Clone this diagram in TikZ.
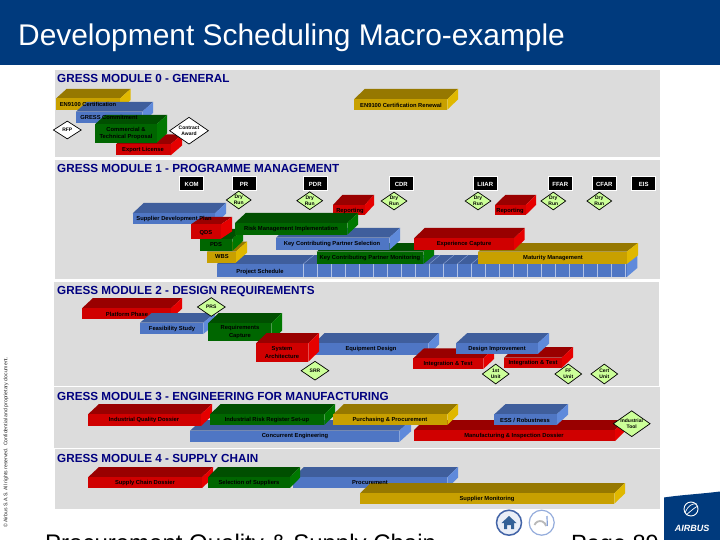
\documentclass[tikz,border=0pt]{standalone}
\usepackage{fontspec}
\setmainfont{Liberation Sans}
\usetikzlibrary{shapes.geometric}
\definecolor{hdr}{HTML}{003A7D}
\definecolor{panel}{HTML}{DCDCDC}
\definecolor{navy}{HTML}{00007F}
\definecolor{Rf}{HTML}{D00000}\definecolor{Rt}{HTML}{990000}\definecolor{Rs}{HTML}{E60000}
\definecolor{Bf}{HTML}{4F76C4}\definecolor{Bt}{HTML}{3F5E9C}\definecolor{Bs}{HTML}{5F8ADB}
\definecolor{Gf}{HTML}{006600}\definecolor{Gt}{HTML}{004F00}\definecolor{Gs}{HTML}{007800}
\definecolor{Yf}{HTML}{C8A000}\definecolor{Yt}{HTML}{967800}\definecolor{Ys}{HTML}{E0B800}
\definecolor{dia}{HTML}{CCFF99}
\tikzset{
  paneltitle/.style={anchor=base west,inner sep=0pt,text=navy,font=\fontsize{11.7}{12}\selectfont\bfseries},
  bartext/.style={inner sep=0pt,align=center,text=black,font=\fontsize{5.8}{7.5}\selectfont\bfseries},
  milestone/.style={fill=black,draw=white,line width=1pt,text=white,minimum width=24pt,minimum height=14pt,inner sep=0pt,font=\fontsize{6}{7}\selectfont\bfseries},
  gate/.style={diamond,draw=black,line width=.7pt,inner sep=0pt},
  gatetext/.style={inner sep=0pt,align=center,text=black,font=\fontsize{5}{6}\selectfont\bfseries},
}
% name, colour key, x1,y1,x2,y2 of the front, right x, top y, text
\newcommand\gbar[9]{%
  \pgfmathsetmacro\gxa{#3+#7-#5}%
  \pgfmathsetmacro\gyb{#6-(#4-#8)}%
  \fill[#2t] (#3,#4) -- (\gxa,#8) -- (#7,#8) -- (#5,#4) -- cycle;
  \fill[#2s] (#5,#4) -- (#7,#8) -- (#7,\gyb) -- (#5,#6) -- cycle;
  \fill[#2f] (#3,#4) rectangle (#5,#6);
}
\newcommand\gate[7]{% name,x,y,w,h,fill,text
  \node[gate,fill=#6,minimum width=#4pt,minimum height=#5pt,aspect=1.4,
        label={[gatetext,name=#1t]center:{#7}}] (#1) at (#2,#3) {};
}
\newcommand\mile[3]{\node[milestone] (#1) at (#2,184) {#3};}
\begin{document}
\begin{tikzpicture}[x=1pt,y=-1pt]
\useasboundingbox (0,0) rectangle (720,540);
\clip (0,0) rectangle (720,540);
\fill[white] (0,0) rectangle (720,540);
% header
\fill[hdr] (0,0) rectangle (720,65.5);
\node[anchor=base west,inner sep=0pt,text=white,font=\fontsize{29.9}{31}\selectfont] (title) at (18,46) {Development Scheduling Macro-example};
% panels
\fill[panel] (54.5,70) rectangle (660,157);
\fill[panel] (54.5,160) rectangle (660,279);
\fill[panel] (54,282) rectangle (659,386);
\fill[panel] (54,387) rectangle (660,448);
\fill[panel] (55,449) rectangle (660,509);
\node[paneltitle] (m0) at (57,83) {GRESS MODULE 0 - GENERAL};
\node[paneltitle] (m1) at (57,172.5) {GRESS MODULE 1 - PROGRAMME MANAGEMENT};
\node[paneltitle] (m2) at (57,294) {GRESS MODULE 2 - DESIGN REQUIREMENTS};
\node[paneltitle] (m3) at (57,400) {GRESS MODULE 3 - ENGINEERING FOR MANUFACTURING};
\node[paneltitle] (m4) at (57,462) {GRESS MODULE 4 - SUPPLY CHAIN};
% module 0
\gbar{a1}{Y}{56}{98.5}{120}{109.7}{130.5}{89}{}
\gbar{a2}{B}{76}{111.7}{142.3}{122.7}{153}{102}{}
\gbar{a4}{R}{116}{144.3}{170.7}{155.3}{182}{134.5}{}
\gbar{a3}{G}{95}{124.3}{156.7}{142.7}{167}{115}{}
\gbar{a5}{Y}{354}{99.3}{447.3}{109.7}{458}{89}{}
\node[bartext] (a1t) at (88,104) {EN9100 Certification};
\node[bartext] (a2t) at (109,117) {GRESS Commitment};
\node[bartext] (a3t) at (126,133.5) {Commercial \&\\Technical Proposal};
\node[bartext] (a4t) at (143,150) {Export License};
\node[bartext] (a5t) at (401,105) {EN9100 Certification Renewal};
\gate{g1}{67.3}{130}{28}{18}{white}{RFP}
\gate{g2}{189}{130.7}{39}{27}{white}{Contract\\Award}
% module 1
\mile{k1}{191.7}{KOM}\mile{k2}{244}{PR}\mile{k3}{315.3}{PDR}\mile{k4}{401.3}{CDR}
\mile{k5}{485.3}{LIIAR}\mile{k6}{560.3}{FFAR}\mile{k7}{604.3}{CFAR}\mile{k8}{643.7}{EIS}
\gate{d1}{238.7}{200}{25}{18}{dia}{Dry\\Run}
\gate{d2}{309.7}{200.7}{26}{18}{dia}{Dry\\Run}
\gate{d3}{394}{201}{26}{18}{dia}{Dry\\Run}
\gate{d4}{478}{201}{26}{18}{dia}{Dry\\Run}
\gate{d5}{553.3}{201}{25}{18}{dia}{Dry\\Run}
\gate{d6}{599.3}{201}{25}{18}{dia}{Dry\\Run}
\gbar{b1}{B}{217}{264}{626.7}{277}{637.3}{255}{}
\foreach \k in {0,...,23} {
  \draw[white!55!Bf,line width=.5pt] ({303.3+14*\k},264) -- ({303.3+14*\k},277);
  \draw[white!35!Bf,line width=.4pt] ({303.3+14*\k},264) -- ({314+14*\k},255);
}
\gbar{b2}{R}{333}{205}{364.7}{215}{374}{195}{}
\gbar{b3}{R}{495}{205}{525.7}{215}{536}{195}{}
\gbar{b4}{B}{132.7}{213.3}{215}{224}{226}{203}{}
\gbar{b7}{Y}{207}{251.7}{235.7}{262.7}{247}{241.7}{}
\gbar{b6}{G}{200}{239}{232.3}{251}{243}{229}{}
\gbar{b5}{R}{191}{224.3}{221}{238.7}{232}{217}{}
\gbar{b10}{G}{316.7}{251.7}{423.3}{264}{434}{243}{}
\gbar{b9}{B}{276}{237.7}{389.3}{250}{400}{228}{}
\gbar{b8}{G}{235}{223}{347.3}{234.7}{358}{213}{}
\gbar{b12}{Y}{478}{251.7}{626.7}{264}{638}{243}{}
\gbar{b11}{R}{414}{238.3}{514}{250}{524.7}{228}{}
\node[bartext] (b1t) at (260,272) {Project Schedule};
\node[bartext] (b2t) at (350,211) {Reporting};
\node[bartext] (b3t) at (510,211) {Reporting};
\node[bartext] (b4t) at (174,219) {Supplier Development Plan};
\node[bartext] (b5t) at (206,233) {QDS};
\node[bartext] (b6t) at (216,245) {PDS};
\node[bartext] (b7t) at (222,257) {WBS};
\node[bartext] (b8t) at (291,229) {Risk Management Implementation};
\node[bartext] (b9t) at (332,244) {Key Contributing Partner Selection};
\node[bartext] (b10t) at (370,258) {Key Contributing Partner Monitoring};
\node[bartext] (b11t) at (464,244) {Experience Capture};
\node[bartext] (b12t) at (553,258) {Maturity Management};
% module 2
\gbar{c1}{R}{82}{308.3}{171}{319}{182}{298}{}
\gbar{c2}{B}{140}{322.7}{203.3}{334}{215}{313}{}
\gbar{c3}{G}{208}{323.3}{271.3}{341}{282}{313}{}
\gbar{c5}{B}{314}{343.3}{428.3}{354.7}{439}{333}{}
\gbar{c4}{R}{256}{343.3}{308.3}{361.7}{319}{333}{}
\gbar{c6}{R}{413.3}{358.3}{483.3}{369}{494}{348.3}{}
\gbar{c8}{R}{504}{357.7}{561.7}{368}{573}{347}{}
\gbar{c7}{B}{456}{343.3}{537.7}{354}{549}{333}{}
\node[bartext] (c1t) at (127,314) {Platform Phase};
\node[bartext] (c2t) at (172,328.5) {Feasibility Study};
\node[bartext] (c3t) at (240,332) {Requirements\\Capture};
\node[bartext] (c4t) at (282,352.5) {System\\Architecture};
\node[bartext] (c5t) at (371,349.5) {Equipment Design};
\node[bartext] (c6t) at (448,364) {Integration \& Test};
\node[bartext] (c7t) at (497,349) {Design Improvement};
\node[bartext] (c8t) at (533,363) {Integration \& Test};
\gate{e1}{211.3}{307}{28}{19}{dia}{PRS}
\gate{e2}{315}{370.7}{28}{19}{dia}{SRR}
\gate{e3}{495.7}{374}{27}{20}{dia}{1st\\Unit}
\gate{e4}{568.3}{374}{27}{20}{dia}{FF\\Unit}
\gate{e5}{604.3}{374}{27}{20}{dia}{Cert\\Unit}
% module 3
\gbar{f4}{B}{190}{430.7}{399.3}{442}{411}{420}{}
\gbar{f6}{R}{414}{430}{615}{441}{625}{420}{}
\gbar{f1}{R}{88}{414.3}{201}{426}{212}{404}{}
\gbar{f2}{G}{210}{414.3}{324.3}{425}{335}{404}{}
\gbar{f3}{Y}{333.3}{414.3}{447.3}{425}{458}{404}{}
\gbar{f5}{B}{494.3}{414.3}{556.7}{425}{568}{404}{}
\node[bartext] (f1t) at (144,420) {Industrial Quality Dossier};
\node[bartext] (f2t) at (267,420) {Industrial Risk Register Set-up};
\node[bartext] (f3t) at (390,420) {Purchasing \& Procurement};
\node[bartext] (f4t) at (295,436.5) {Concurrent Engineering};
\node[bartext] (f5t) at (525,420) {ESS / Robustness};
\node[bartext] (f6t) at (514,436) {Manufacturing \& Inspection Dossier};
\gate{e6}{631.7}{423.7}{37}{26}{dia}{Industrial\\Tool}
% module 4
\gbar{h3}{B}{293.3}{477.3}{447.3}{488}{458}{467}{}
\gbar{h1}{R}{88}{477.3}{202}{488}{213}{467}{}
\gbar{h2}{G}{208}{477.3}{290}{488}{300}{467}{}
\gbar{h4}{Y}{360}{493.3}{614.3}{503.7}{625}{483}{}
\node[bartext] (h1t) at (145,483) {Supply Chain Dossier};
\node[bartext] (h2t) at (249,483) {Selection of Suppliers};
\node[bartext] (h3t) at (370,482.5) {Procurement};
\node[bartext] (h4t) at (487,499) {Supplier Monitoring};
% side note
\node[rotate=90,anchor=west,inner sep=0pt,text=black!85,font=\fontsize{5.15}{6}\selectfont] (legal) at (6,528) {© Airbus S.A.S. All rights reserved. Confidential and proprietary document.};
% footer
\node[anchor=base west,inner sep=0pt,font=\fontsize{24}{26}\selectfont] (foot) at (45,551) {Procurement Quality \& Supply Chain};
\node[anchor=base west,inner sep=0pt,font=\fontsize{23.5}{26}\selectfont] (page) at (571,551) {Page 89};
% home icon
\draw[draw=Bf!85!black,line width=1.5pt,fill=Bf!12] (509,522.7) circle (12.5);
\fill[hdr!80!white] (509,516) -- (516.5,523) -- (514,523) -- (514,529) -- (511,529) -- (511,525) -- (507,525) -- (507,529) -- (504,529) -- (504,523) -- (501.5,523) -- cycle;
% back icon
\draw[draw=Bf!60,line width=1.2pt,fill=white] (541.7,522.7) circle (12.5);
\draw[gray!55,line width=1.8pt] (534.5,525) arc[start angle=200,end angle=350,radius=6];
\draw[Bf!70,line width=1.2pt] (547,516) -- (547.3,526);
% logo
\fill[hdr] (664,497.5) .. controls (680,495) and (700,494) .. (720,491.5) -- (720,540) -- (664,540) -- cycle;
\draw[white,line width=.9pt] (691,509) circle (7);
\draw[white,line width=.7pt] (685,513) .. controls (688,505) and (693,503) .. (697,504);
\draw[white,line width=.7pt] (686,515) .. controls (691,511) and (695,507) .. (698,506);
\node[inner sep=0pt,text=white,font=\fontsize{9}{10}\selectfont\bfseries\itshape] (logo) at (692,528) {AIRBUS};
\end{tikzpicture}
\end{document}
